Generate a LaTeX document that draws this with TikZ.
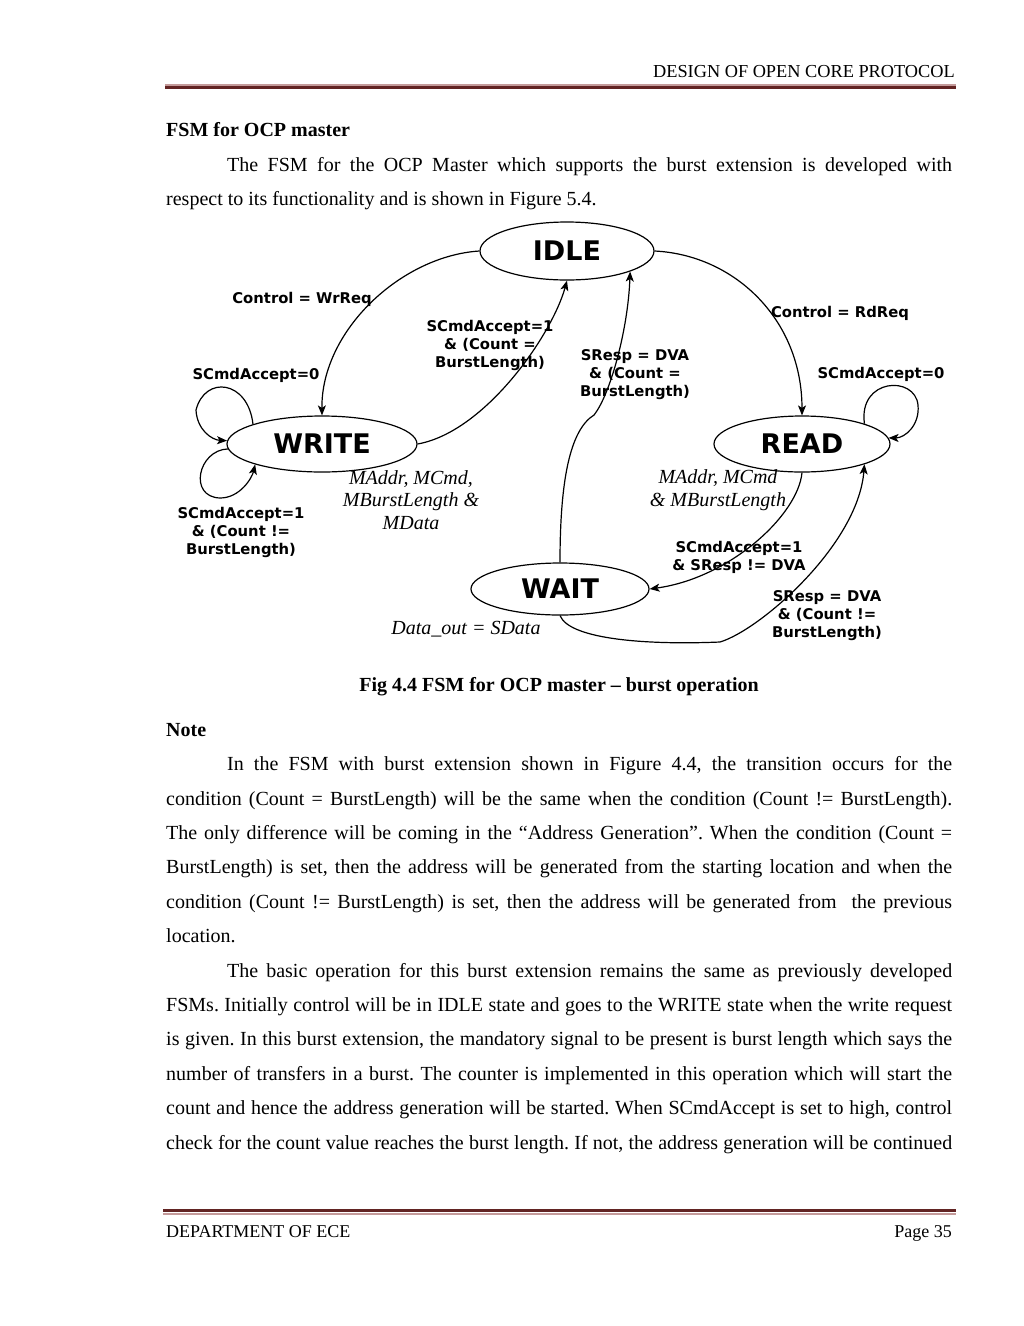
\documentclass[tikz,border=0pt]{standalone}
\usepackage{fontspec}
\setmainfont{Liberation Serif}
\newfontfamily\dvs{DejaVu Sans}
\usetikzlibrary{arrows.meta,shapes.geometric}
\definecolor{maroon}{HTML}{622423}
\definecolor{maroonlt}{HTML}{C49A9A}
\frenchspacing
\begin{document}
\begin{tikzpicture}[x=1pt,y=-1pt,
 state/.style={draw, ellipse, line width=1.2pt, inner sep=0pt, font=\fontsize{27}{30}\dvs\bfseries},
 lab/.style={align=center, inner sep=0pt, font=\fontsize{14.8}{18}\dvs\bfseries},
 ital/.style={align=center, inner sep=0pt, font=\fontsize{20}{22.5}\selectfont\itshape},
 conn/.style={line width=1.2pt, -{Stealth[length=10pt,width=8pt,inset=2.5pt]}},
 txtline/.style={anchor=base west, inner sep=0pt, font=\fontsize{20}{24}\selectfont\frenchspacing},
 rule/.style={line width=#1},
]
\useasboundingbox[fill=white] (0,0) rectangle (1024,1326);

% header
\node[anchor=base east, inner sep=0pt, font=\fontsize{18.3}{20}\selectfont] (hdr) at (955,77) {DESIGN OF OPEN CORE PROTOCOL};
\draw[maroonlt, rule=1.3pt] (165,85) -- (956,85);
\draw[maroon, rule=3.3pt] (165,87.7) -- (956,87.7);

% top text
\node[txtline] (t1) at (166,136.7) {\bfseries FSM for OCP master};
\node[txtline] (t2) at (227,171.1) {\makebox[725pt][s]{The FSM for the OCP Master which supports the burst extension is developed with}};
\node[txtline] (t3) at (166,205.5) {respect to its functionality and is shown in Figure 5.4.};

% states
\node[state, minimum width=174pt, minimum height=58pt] (idle) at (567,251) {IDLE};
\node[state, minimum width=190pt, minimum height=56pt] (write) at (322,444) {WRITE};
\node[state, minimum width=176pt, minimum height=56pt] (read) at (802,444) {READ};
\node[state, minimum width=178pt, minimum height=52pt] (wait) at (560,589) {WAIT};

% connectors
\draw[conn] (idle.west) .. controls (401,256) and (321,331) .. (write.north);
\draw[conn] (write.east) .. controls (485,432) and (552,335) .. (idle.south);
\draw[conn] (idle.east) .. controls (735,255) and (802,320) .. (read.north);
\draw[conn] (wait.north) .. controls (560,480) and (570,430) .. (594,415) .. controls (610,395) and (628,330) .. (idle.-18);
\draw[conn] (read.south) .. controls (798,515) and (730,578) .. (wait.east);
\draw[conn] (wait.south) .. controls (570,640) and (650,645) .. (720,642) .. controls (760,630) and (858,545) .. (read.-18);
\draw[conn] (write.164) .. controls (248,380) and (205,375) .. (196,410) .. controls (197,430) and (212,440) .. (write.178);
\draw[conn] (write.183) .. controls (198,450) and (188,497) .. (220,498) .. controls (240,498) and (252,478) .. (write.197);
\draw[conn] (read.18) .. controls (858,378) and (915,375) .. (918,405) .. controls (920,425) and (905,438) .. (read.4);

% labels
\node[lab] (l1) at (302,299) {Control = WrReq};
\node[lab] (l2) at (490,345) {SCmdAccept=1\\ \& (Count =\\ BurstLength)};
\node[lab] (l3) at (256,375) {SCmdAccept=0};
\node[lab] (l4) at (635,375) {SResp = DVA\\ \& (Count =\\ BurstLength)};
\node[lab] (l5) at (840,313) {Control = RdReq};
\node[lab] (l6) at (881,374) {SCmdAccept=0};
\node[lab] (l7) at (241,532) {SCmdAccept=1\\ \& (Count !=\\ BurstLength)};
\node[lab] (l8) at (739,557) {SCmdAccept=1\\ \& SResp != DVA};
\node[lab] (l9) at (827,616) {SResp = DVA\\ \& (Count !=\\ BurstLength)};
\node[ital] (i1) at (411,500) {MAddr, MCmd,\\ MBurstLength \&\\ MData};
\node[ital] (i2) at (718,490) {MAddr, MCmd\\ \& MBurstLength};
\node[ital] (i3) at (466,629) {Data\_out = SData};

% caption
\node[anchor=base, inner sep=0pt, font=\fontsize{20}{24}\selectfont\bfseries] (cap) at (559,691.7) {Fig 4.4 FSM for OCP master – burst operation};

% note
\node[txtline] (n0) at (166,736.3) {\bfseries Note};
\node[txtline] (n1) at (227,770.7) {\makebox[725pt][s]{In the FSM with burst extension shown in Figure 4.4, the transition occurs for the}};
\node[txtline] (n2) at (166,805.1) {\makebox[786pt][s]{condition (Count = BurstLength) will be the same when the condition (Count != BurstLength).}};
\node[txtline] (n3) at (166,839.5) {\makebox[786pt][s]{The only difference will be coming in the “Address Generation”. When the condition (Count =}};
\node[txtline] (n4) at (166,873.9) {\makebox[786pt][s]{BurstLength) is set, then the address will be generated from the starting location and when the}};
\node[txtline] (n5) at (166,908.3) {\makebox[786pt][s]{condition (Count != BurstLength) is set, then the address will be generated from \ the previous}};
\node[txtline] (n6) at (166,942.7) {location.};
\node[txtline] (p1) at (227,977.1) {\makebox[725pt][s]{The basic operation for this burst extension remains the same as previously developed}};
\node[txtline] (p2) at (166,1011.5) {\makebox[786pt][s]{FSMs. Initially control will be in IDLE state and goes to the WRITE state when the write request}};
\node[txtline] (p3) at (166,1045.9) {\makebox[786pt][s]{is given. In this burst extension, the mandatory signal to be present is burst length which says the}};
\node[txtline] (p4) at (166,1080.3) {\makebox[786pt][s]{number of transfers in a burst. The counter is implemented in this operation which will start the}};
\node[txtline] (p5) at (166,1114.7) {\makebox[786pt][s]{count and hence the address generation will be started. When SCmdAccept is set to high, control}};
\node[txtline] (p6) at (166,1149.1) {\makebox[786pt][s]{check for the count value reaches the burst length. If not, the address generation will be continued}};

% footer
\draw[maroon, rule=3.3pt] (163,1210.7) -- (956,1210.7);
\draw[maroonlt, rule=1.5pt] (163,1214.2) -- (956,1214.2);
\node[anchor=base west, inner sep=0pt, font=\fontsize{18}{20}\selectfont] (f1) at (166,1237.7) {DEPARTMENT OF ECE};
\node[anchor=base east, inner sep=0pt, font=\fontsize{18}{20}\selectfont] (f2) at (952,1237.7) {Page 35};
\end{tikzpicture}
\end{document}
